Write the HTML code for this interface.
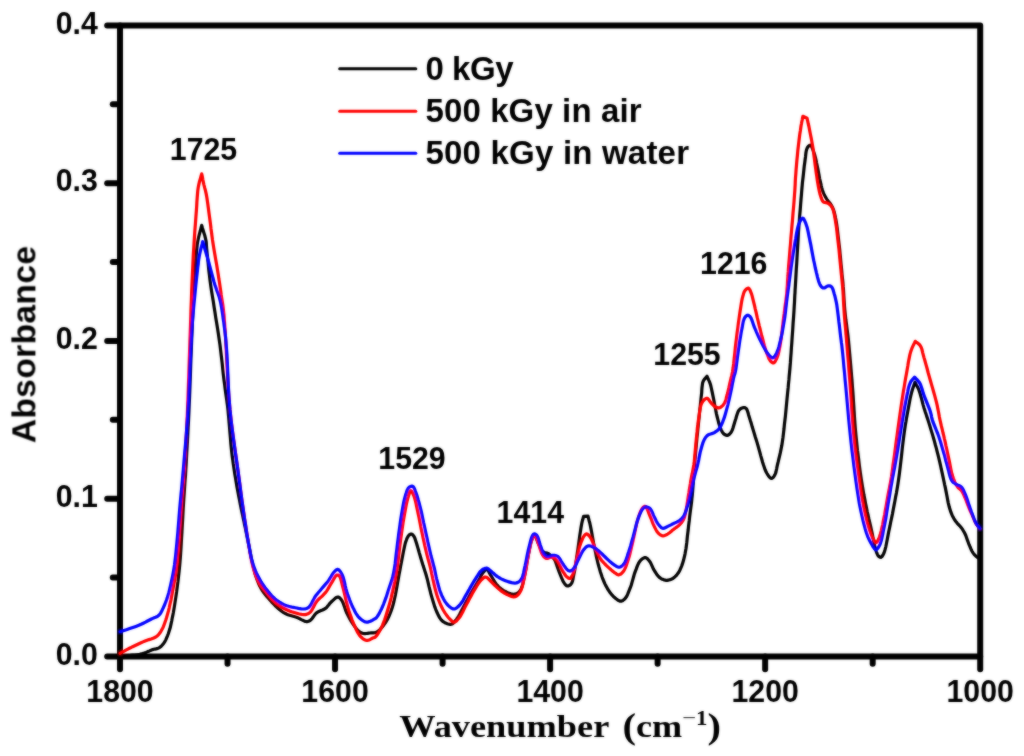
<!DOCTYPE html>
<html lang="en">
<head>
<meta charset="utf-8">
<title>FTIR absorbance spectra</title>
<style>
html,body{margin:0;padding:0;background:#fff;}
body{width:1024px;height:756px;overflow:hidden;}
svg{display:block;}
</style>
</head>
<body>
<svg width="1024" height="756" viewBox="0 0 1024 756">
<defs><filter id="soft" x="0" y="0" width="1024" height="756" filterUnits="userSpaceOnUse"><feGaussianBlur stdDeviation="0.9" result="b"/><feComposite in="SourceGraphic" in2="b" operator="arithmetic" k1="0" k2="0.5" k3="0.5" k4="0"/></filter></defs>
<rect width="1024" height="756" fill="#fff"/>
<g filter="url(#soft)">
<g stroke="#000" stroke-width="6.0" fill="none" stroke-linecap="round" stroke-linejoin="round">
<rect x="120.00" y="25.40" width="860.20" height="631.10"/>
<line x1="107.20" y1="656.50" x2="120.00" y2="656.50"/>
<line x1="112.80" y1="577.61" x2="120.00" y2="577.61"/>
<line x1="107.20" y1="498.73" x2="120.00" y2="498.73"/>
<line x1="112.80" y1="419.84" x2="120.00" y2="419.84"/>
<line x1="107.20" y1="340.95" x2="120.00" y2="340.95"/>
<line x1="112.80" y1="262.06" x2="120.00" y2="262.06"/>
<line x1="107.20" y1="183.17" x2="120.00" y2="183.17"/>
<line x1="112.80" y1="104.29" x2="120.00" y2="104.29"/>
<line x1="107.20" y1="25.40" x2="120.00" y2="25.40"/>
<line x1="120.00" y1="656.50" x2="120.00" y2="669.30"/>
<line x1="227.53" y1="656.50" x2="227.53" y2="663.70"/>
<line x1="335.05" y1="656.50" x2="335.05" y2="669.30"/>
<line x1="442.58" y1="656.50" x2="442.58" y2="663.70"/>
<line x1="550.10" y1="656.50" x2="550.10" y2="669.30"/>
<line x1="657.62" y1="656.50" x2="657.62" y2="663.70"/>
<line x1="765.15" y1="656.50" x2="765.15" y2="669.30"/>
<line x1="872.68" y1="656.50" x2="872.68" y2="663.70"/>
<line x1="980.20" y1="656.50" x2="980.20" y2="669.30"/>
</g>
<g fill="none" stroke-width="3.2" stroke-linejoin="round" stroke-linecap="round">
<path stroke="#000" d="M120.0,655.8 L122.6,655.7 L125.2,655.6 L127.8,655.5 L130.4,655.4 L132.8,655.2 L135.0,655.0 L136.4,654.8 L137.7,654.7 L138.9,654.5 L140.1,654.2 L141.3,653.9 L142.6,653.6 L144.2,653.1 L146.0,652.4 L147.7,651.6 L149.5,650.9 L151.1,650.2 L152.7,649.6 L153.8,649.3 L154.9,649.1 L156.0,648.9 L157.0,648.6 L158.0,648.3 L158.9,647.9 L159.8,647.3 L160.8,646.6 L161.6,645.8 L162.4,644.9 L163.2,644.0 L164.0,642.9 L165.0,641.4 L165.9,639.6 L166.7,637.7 L167.5,635.8 L168.3,633.7 L169.0,631.6 L169.8,629.1 L170.5,626.5 L171.1,623.7 L171.7,621.0 L172.2,618.1 L172.8,615.3 L173.4,612.3 L173.9,609.3 L174.4,606.2 L174.9,603.1 L175.4,599.8 L175.9,596.4 L176.6,591.8 L177.2,587.0 L177.9,581.9 L178.5,576.6 L179.1,571.0 L179.7,565.0 L180.5,555.1 L181.2,543.8 L181.9,531.8 L182.6,519.9 L183.2,508.7 L183.8,499.0 L184.2,493.6 L184.5,488.8 L184.8,484.4 L185.1,480.0 L185.5,475.3 L185.8,470.0 L186.3,461.4 L186.8,452.0 L187.4,442.1 L187.9,431.7 L188.5,421.0 L189.0,410.0 L189.6,395.9 L190.2,380.8 L190.7,365.2 L191.3,349.6 L191.9,334.4 L192.5,320.0 L193.1,308.0 L193.7,295.7 L194.4,283.8 L195.0,272.6 L195.7,262.9 L196.2,255.0 L196.5,252.2 L196.7,249.9 L196.9,247.8 L197.1,245.9 L197.3,243.9 L197.7,241.7 L198.2,239.1 L198.8,236.3 L199.5,233.6 L200.3,230.8 L201.0,228.1 L201.7,225.3 L202.4,227.9 L203.2,230.5 L204.0,233.1 L204.8,235.6 L205.4,238.1 L205.9,240.4 L206.2,242.1 L206.3,243.5 L206.4,245.0 L206.5,246.5 L206.6,248.1 L206.8,250.0 L207.2,254.0 L207.7,258.7 L208.2,263.9 L208.7,269.3 L209.4,274.7 L210.0,280.0 L210.7,285.3 L211.5,290.7 L212.4,296.2 L213.3,301.6 L214.1,307.1 L215.0,312.5 L215.8,317.9 L216.7,323.3 L217.6,328.7 L218.4,334.1 L219.2,339.5 L220.0,345.0 L220.7,350.8 L221.4,356.7 L222.1,362.6 L222.7,368.5 L223.3,374.3 L224.0,380.0 L224.7,385.1 L225.3,390.0 L226.0,394.9 L226.7,399.8 L227.4,404.8 L228.0,410.0 L228.6,416.5 L229.2,423.4 L229.8,430.5 L230.4,437.5 L230.9,444.1 L231.5,450.0 L231.9,453.7 L232.3,457.1 L232.8,460.3 L233.2,463.4 L233.7,466.6 L234.2,470.0 L234.8,474.0 L235.5,478.1 L236.2,482.3 L236.9,486.5 L237.7,490.8 L238.5,495.0 L239.4,499.5 L240.3,504.1 L241.2,508.7 L242.2,513.3 L243.1,517.8 L244.0,522.0 L244.7,525.3 L245.4,528.5 L246.0,531.6 L246.7,534.7 L247.3,537.8 L248.0,541.0 L248.7,544.7 L249.5,548.5 L250.2,552.4 L251.0,556.3 L251.7,560.0 L252.5,563.5 L253.1,566.1 L253.8,568.7 L254.4,571.1 L255.0,573.5 L255.7,575.8 L256.5,578.0 L257.2,579.9 L257.9,581.8 L258.6,583.6 L259.4,585.4 L260.3,587.1 L261.3,588.9 L262.5,590.8 L263.9,592.8 L265.4,594.7 L267.0,596.6 L268.6,598.4 L270.1,600.2 L271.5,601.8 L273.0,603.4 L274.5,604.9 L275.9,606.4 L277.4,607.7 L278.9,609.0 L280.1,610.0 L281.3,610.9 L282.5,611.8 L283.8,612.6 L285.0,613.3 L286.4,614.0 L288.0,614.7 L289.7,615.2 L291.5,615.7 L293.3,616.2 L294.9,616.7 L296.5,617.2 L297.7,617.7 L298.8,618.3 L299.9,618.8 L300.9,619.4 L301.9,619.9 L302.8,620.3 L303.5,620.6 L304.1,620.9 L304.7,621.2 L305.3,621.4 L305.9,621.5 L306.5,621.6 L307.1,621.6 L307.8,621.5 L308.4,621.3 L309.0,621.0 L309.7,620.7 L310.3,620.3 L311.3,619.4 L312.3,618.2 L313.3,616.8 L314.3,615.3 L315.4,613.9 L316.6,612.8 L318.0,611.9 L319.4,611.2 L321.0,610.6 L322.5,610.0 L324.0,609.3 L325.4,608.4 L326.6,607.4 L327.6,606.2 L328.7,605.0 L329.6,603.7 L330.6,602.6 L331.7,601.5 L332.7,600.6 L333.8,599.6 L334.9,598.6 L335.9,597.8 L337.0,597.3 L337.9,597.1 L338.6,597.2 L339.3,597.6 L339.9,598.1 L340.5,598.7 L341.1,599.4 L341.7,600.2 L342.6,601.8 L343.4,603.7 L344.2,606.0 L345.0,608.3 L345.8,610.7 L346.7,612.8 L347.7,614.8 L348.7,616.7 L349.7,618.7 L350.8,620.6 L351.9,622.4 L353.0,624.1 L354.0,625.5 L355.1,627.0 L356.1,628.3 L357.2,629.6 L358.3,630.7 L359.3,631.6 L359.9,632.1 L360.5,632.5 L361.1,632.8 L361.7,633.1 L362.4,633.3 L363.1,633.5 L364.1,633.6 L365.2,633.6 L366.4,633.5 L367.6,633.3 L368.8,633.1 L370.0,633.0 L371.1,632.9 L372.2,632.9 L373.2,632.9 L374.3,632.8 L375.3,632.6 L376.3,632.2 L377.4,631.6 L378.5,630.8 L379.6,629.9 L380.6,628.8 L381.6,627.7 L382.6,626.6 L383.7,625.2 L384.8,623.6 L385.9,622.0 L386.9,620.2 L387.9,618.4 L388.8,616.5 L389.8,614.2 L390.7,611.9 L391.6,609.4 L392.4,606.9 L393.2,604.2 L393.9,601.5 L394.7,598.0 L395.5,594.3 L396.2,590.5 L396.9,586.6 L397.6,582.7 L398.3,578.8 L399.0,574.8 L399.8,570.8 L400.5,566.7 L401.3,562.8 L402.0,558.9 L402.7,555.4 L403.2,552.8 L403.7,550.3 L404.2,547.9 L404.7,545.6 L405.2,543.5 L405.8,541.6 L406.3,540.3 L406.7,539.1 L407.2,537.9 L407.8,536.9 L408.3,536.0 L408.9,535.3 L409.3,534.9 L409.7,534.6 L410.2,534.3 L410.6,534.1 L411.1,534.0 L411.5,534.0 L411.9,534.2 L412.4,534.4 L412.8,534.9 L413.2,535.3 L413.6,535.9 L414.0,536.5 L414.6,537.6 L415.1,538.9 L415.6,540.4 L416.1,542.0 L416.6,543.6 L417.1,545.3 L417.8,547.6 L418.5,550.0 L419.2,552.6 L420.0,555.2 L420.7,557.8 L421.5,560.4 L422.3,563.0 L423.1,565.6 L424.0,568.2 L424.8,570.8 L425.7,573.5 L426.5,576.3 L427.4,579.5 L428.2,582.9 L429.0,586.4 L429.9,589.8 L430.7,593.2 L431.6,596.4 L432.4,599.1 L433.2,601.8 L434.0,604.4 L434.8,606.9 L435.7,609.3 L436.6,611.5 L437.4,613.2 L438.1,614.8 L438.9,616.4 L439.8,617.9 L440.7,619.2 L441.6,620.3 L442.4,621.0 L443.2,621.7 L444.0,622.2 L444.9,622.7 L445.7,623.1 L446.6,623.4 L447.4,623.7 L448.3,624.0 L449.2,624.2 L450.0,624.3 L450.9,624.3 L451.7,624.1 L452.6,623.7 L453.5,623.0 L454.3,622.1 L455.1,621.1 L455.9,620.1 L456.7,619.0 L457.8,617.4 L458.8,615.7 L459.9,613.7 L460.9,611.7 L461.9,609.7 L463.0,607.7 L464.2,605.5 L465.4,603.2 L466.7,600.8 L468.0,598.5 L469.2,596.2 L470.5,593.9 L471.8,591.7 L473.0,589.6 L474.3,587.5 L475.6,585.4 L476.8,583.4 L478.0,581.4 L478.9,579.8 L479.8,578.2 L480.6,576.6 L481.4,575.1 L482.2,573.8 L483.1,572.6 L483.7,571.8 L484.3,571.1 L485.0,570.4 L485.6,569.8 L486.2,569.5 L486.8,569.4 L487.5,569.7 L488.1,570.5 L488.7,571.5 L489.3,572.7 L489.9,573.9 L490.6,575.1 L491.6,576.7 L492.7,578.5 L493.8,580.3 L494.9,582.2 L496.2,583.9 L497.5,585.5 L498.8,586.8 L500.2,588.1 L501.7,589.2 L503.2,590.3 L504.8,591.2 L506.3,592.0 L507.7,592.7 L509.3,593.3 L510.8,593.8 L512.3,594.1 L513.7,594.3 L515.0,594.2 L516.0,593.9 L516.9,593.5 L517.8,592.9 L518.7,592.3 L519.5,591.4 L520.2,590.5 L521.2,588.7 L522.0,586.6 L522.7,584.1 L523.3,581.4 L523.9,578.7 L524.5,576.0 L525.2,572.7 L525.9,569.2 L526.5,565.6 L527.0,561.9 L527.7,558.4 L528.3,555.0 L528.9,552.1 L529.5,549.0 L530.1,546.1 L530.7,543.3 L531.4,540.9 L532.1,538.9 L532.5,538.0 L532.9,537.1 L533.3,536.2 L533.7,535.6 L534.2,535.1 L534.6,535.0 L535.2,535.5 L535.8,536.6 L536.4,538.2 L537.1,540.1 L537.7,541.9 L538.4,543.5 L539.1,544.9 L539.7,546.4 L540.4,547.9 L541.1,549.3 L541.9,550.5 L542.8,551.5 L543.7,552.1 L544.7,552.5 L545.8,552.9 L546.9,553.1 L548.0,553.5 L549.0,554.0 L549.9,554.7 L550.8,555.4 L551.7,556.1 L552.5,557.0 L553.3,557.9 L554.1,559.0 L555.1,560.7 L555.9,562.7 L556.7,564.9 L557.5,567.2 L558.3,569.5 L559.1,571.6 L559.9,573.6 L560.7,575.7 L561.6,577.8 L562.4,579.7 L563.2,581.5 L564.1,582.9 L564.6,583.6 L565.1,584.3 L565.7,584.9 L566.2,585.5 L566.7,585.8 L567.3,586.0 L567.9,586.0 L568.5,585.9 L569.2,585.6 L569.8,585.2 L570.5,584.7 L571.0,584.1 L571.8,582.9 L572.4,581.2 L572.9,579.4 L573.3,577.3 L573.7,575.1 L574.2,572.8 L574.9,569.4 L575.5,565.6 L576.1,561.5 L576.7,557.3 L577.3,553.1 L577.9,549.0 L578.5,544.7 L579.2,540.1 L579.8,535.5 L580.5,531.1 L581.1,527.1 L581.7,523.8 L582.0,522.3 L582.3,521.0 L582.7,519.8 L583.0,518.6 L583.3,517.5 L583.6,516.3 L588.0,516.1 L588.4,517.8 L588.8,519.4 L589.2,521.0 L589.7,522.7 L590.1,524.5 L590.5,526.4 L591.1,529.4 L591.7,532.6 L592.3,536.0 L593.0,539.6 L593.6,543.1 L594.3,546.5 L595.0,549.9 L595.7,553.3 L596.4,556.6 L597.2,560.0 L598.0,563.3 L598.8,566.4 L599.6,569.1 L600.3,571.7 L601.2,574.3 L602.0,576.8 L602.9,579.2 L603.9,581.5 L604.8,583.6 L605.8,585.6 L606.9,587.5 L607.9,589.4 L609.1,591.2 L610.2,592.8 L611.2,594.0 L612.2,595.2 L613.3,596.3 L614.3,597.3 L615.4,598.2 L616.4,599.0 L617.1,599.5 L617.9,600.1 L618.6,600.5 L619.4,600.9 L620.1,601.1 L620.8,601.2 L621.6,601.1 L622.3,600.8 L623.1,600.3 L623.8,599.8 L624.5,599.1 L625.2,598.4 L626.2,597.1 L627.1,595.5 L627.9,593.7 L628.7,591.7 L629.5,589.7 L630.3,587.7 L631.2,585.2 L632.0,582.4 L632.8,579.6 L633.6,576.7 L634.4,573.9 L635.3,571.4 L636.1,569.4 L636.8,567.4 L637.6,565.4 L638.4,563.6 L639.3,562.0 L640.3,560.7 L641.1,559.9 L641.9,559.1 L642.8,558.5 L643.6,558.0 L644.5,557.7 L645.3,557.6 L646.1,557.8 L646.8,558.3 L647.6,558.9 L648.3,559.7 L649.0,560.5 L649.7,561.4 L650.5,562.6 L651.2,564.1 L651.9,565.6 L652.6,567.2 L653.3,568.8 L654.1,570.2 L654.9,571.5 L655.7,572.7 L656.5,574.0 L657.3,575.1 L658.2,576.2 L659.1,577.1 L659.9,577.7 L660.8,578.3 L661.6,578.8 L662.5,579.3 L663.4,579.6 L664.2,579.9 L664.8,580.1 L665.4,580.2 L666.0,580.3 L666.6,580.3 L667.3,580.3 L667.9,580.2 L668.7,580.1 L669.6,579.8 L670.4,579.6 L671.3,579.2 L672.2,578.8 L673.0,578.3 L673.9,577.7 L674.8,576.9 L675.6,576.1 L676.5,575.3 L677.2,574.3 L678.0,573.3 L678.9,572.0 L679.7,570.5 L680.4,568.9 L681.1,567.3 L681.8,565.6 L682.4,563.9 L683.0,562.0 L683.6,560.0 L684.1,557.9 L684.6,555.8 L685.1,553.6 L685.5,551.3 L686.0,548.5 L686.4,545.5 L686.8,542.4 L687.1,539.3 L687.4,536.1 L687.8,533.0 L688.2,529.8 L688.5,526.6 L688.9,523.4 L689.3,520.2 L689.6,517.0 L690.0,513.8 L690.4,510.7 L690.8,507.7 L691.2,504.7 L691.6,501.6 L691.9,498.4 L692.3,495.0 L692.7,490.4 L693.1,485.4 L693.5,480.3 L693.8,475.1 L694.2,469.9 L694.6,465.0 L695.0,460.7 L695.3,456.4 L695.7,452.2 L696.1,448.0 L696.4,444.0 L696.8,440.0 L697.1,436.6 L697.5,433.3 L697.8,430.2 L698.1,427.0 L698.4,423.7 L698.8,420.3 L699.2,416.2 L699.6,411.8 L700.1,407.4 L700.5,403.1 L701.0,398.9 L701.4,395.1 L701.7,392.5 L701.8,389.9 L702.0,387.5 L702.3,385.2 L702.6,383.1 L703.2,381.3 L703.7,380.3 L704.3,379.4 L705.0,378.6 L705.7,377.8 L706.3,377.1 L707.0,376.3 L707.5,377.5 L708.1,378.7 L708.6,379.9 L709.2,381.1 L709.7,382.4 L710.2,383.8 L710.8,385.8 L711.3,388.0 L711.8,390.3 L712.3,392.7 L712.8,395.1 L713.3,397.6 L713.9,400.6 L714.5,403.8 L715.1,407.1 L715.8,410.4 L716.4,413.6 L717.1,416.5 L717.7,418.8 L718.3,421.1 L718.8,423.3 L719.5,425.4 L720.1,427.3 L720.8,429.0 L721.3,430.1 L721.8,431.1 L722.3,432.0 L722.8,432.8 L723.4,433.5 L724.0,434.1 L724.6,434.5 L725.2,434.8 L725.8,435.1 L726.5,435.3 L727.1,435.4 L727.7,435.3 L728.4,435.0 L729.0,434.6 L729.7,434.0 L730.3,433.3 L730.9,432.5 L731.5,431.6 L732.3,430.1 L732.9,428.3 L733.5,426.3 L734.1,424.3 L734.7,422.2 L735.3,420.3 L735.9,418.5 L736.4,416.6 L737.0,414.7 L737.6,413.0 L738.2,411.4 L739.0,410.2 L739.6,409.6 L740.2,409.0 L740.8,408.5 L741.5,408.2 L742.2,407.9 L742.8,407.7 L743.3,407.6 L743.9,407.6 L744.5,407.6 L745.0,407.8 L745.5,408.0 L746.0,408.3 L746.7,409.1 L747.2,410.3 L747.7,411.7 L748.2,413.3 L748.6,414.9 L749.1,416.5 L749.7,418.4 L750.3,420.4 L751.0,422.5 L751.6,424.6 L752.2,426.8 L752.9,429.0 L753.7,431.6 L754.5,434.2 L755.3,437.0 L756.2,439.7 L757.1,442.6 L757.9,445.4 L758.8,448.7 L759.8,452.1 L760.7,455.6 L761.7,459.0 L762.6,462.2 L763.5,465.0 L764.1,466.7 L764.6,468.2 L765.1,469.7 L765.7,471.0 L766.3,472.3 L767.0,473.5 L767.7,474.6 L768.4,475.7 L769.2,476.8 L770.0,477.7 L770.8,478.3 L771.5,478.5 L772.1,478.3 L772.8,477.8 L773.4,477.2 L774.0,476.3 L774.5,475.4 L775.0,474.5 L775.6,473.2 L776.0,471.8 L776.3,470.3 L776.7,468.6 L777.0,466.8 L777.4,465.0 L778.1,462.2 L778.8,459.1 L779.6,455.8 L780.4,452.4 L781.1,448.9 L781.8,445.4 L782.4,441.4 L783.0,437.3 L783.5,433.1 L784.0,428.8 L784.4,424.5 L784.9,420.3 L785.4,416.1 L785.8,411.9 L786.2,407.6 L786.6,403.4 L787.0,399.2 L787.4,395.1 L787.8,391.2 L788.2,387.4 L788.5,383.7 L788.9,379.9 L789.2,376.0 L789.6,372.0 L790.0,367.4 L790.4,362.7 L790.7,357.8 L791.1,352.9 L791.4,347.9 L791.8,342.8 L792.2,336.6 L792.7,330.0 L793.1,323.2 L793.6,316.6 L794.0,310.5 L794.3,305.1 L794.5,302.3 L794.6,299.8 L794.7,297.5 L794.8,295.2 L795.0,292.8 L795.1,290.0 L795.4,285.3 L795.7,280.1 L796.0,274.6 L796.3,268.9 L796.7,263.3 L797.0,257.8 L797.3,252.5 L797.6,247.3 L797.9,242.1 L798.2,236.9 L798.5,231.6 L798.9,226.4 L799.3,221.0 L799.7,215.5 L800.2,210.0 L800.6,204.6 L801.0,199.5 L801.4,195.0 L801.6,192.3 L801.8,189.8 L802.0,187.5 L802.2,185.3 L802.4,182.9 L802.7,180.4 L803.1,177.0 L803.5,173.3 L803.9,169.5 L804.3,165.7 L804.8,162.2 L805.2,159.0 L805.5,156.9 L805.7,154.9 L805.9,153.0 L806.2,151.2 L806.6,149.6 L807.1,148.3 L807.5,147.5 L808.0,146.8 L808.6,146.1 L809.1,145.6 L809.7,145.3 L810.2,145.2 L810.9,145.6 L811.6,146.6 L812.2,147.9 L812.8,149.5 L813.4,151.2 L814.0,152.7 L814.6,154.6 L815.2,156.6 L815.7,158.7 L816.2,160.8 L816.6,163.1 L817.1,165.3 L817.6,167.9 L818.2,170.7 L818.7,173.5 L819.2,176.3 L819.7,179.0 L820.3,181.6 L820.8,183.6 L821.2,185.6 L821.7,187.6 L822.2,189.4 L822.8,191.2 L823.4,192.9 L824.0,194.2 L824.6,195.4 L825.2,196.6 L825.9,197.7 L826.5,198.8 L827.2,199.8 L827.7,200.6 L828.3,201.3 L828.9,202.0 L829.5,202.6 L830.0,203.3 L830.5,204.0 L831.0,204.7 L831.4,205.4 L831.8,206.1 L832.2,206.8 L832.6,207.6 L833.0,208.5 L833.6,210.0 L834.1,211.8 L834.6,213.7 L835.1,215.7 L835.5,217.8 L836.0,220.1 L836.6,223.7 L837.2,227.8 L837.7,232.1 L838.2,236.5 L838.7,241.0 L839.2,245.3 L839.7,249.5 L840.1,253.8 L840.5,258.0 L840.9,262.3 L841.3,266.4 L841.7,270.4 L842.0,273.8 L842.3,277.1 L842.7,280.3 L843.0,283.5 L843.2,286.7 L843.5,290.0 L843.7,293.3 L843.9,296.5 L844.1,299.7 L844.3,303.0 L844.5,306.4 L844.8,310.0 L845.3,314.6 L845.8,319.3 L846.5,324.2 L847.1,329.3 L847.8,334.5 L848.4,340.0 L849.1,347.3 L849.8,355.1 L850.5,363.2 L851.2,371.4 L851.9,379.6 L852.5,387.7 L853.1,395.6 L853.6,403.5 L854.1,411.4 L854.6,419.3 L855.2,427.2 L855.9,435.0 L856.7,442.7 L857.5,450.5 L858.5,458.3 L859.4,465.9 L860.4,473.2 L861.4,480.0 L862.2,485.0 L863.0,489.8 L863.8,494.4 L864.7,498.9 L865.5,503.2 L866.4,507.6 L867.2,511.5 L868.1,515.4 L868.9,519.2 L869.8,522.9 L870.7,526.6 L871.5,530.3 L872.3,533.9 L873.0,537.6 L873.7,541.2 L874.4,544.7 L875.2,547.8 L875.9,550.4 L876.3,551.6 L876.7,552.7 L877.1,553.7 L877.5,554.6 L877.9,555.4 L878.4,556.0 L878.8,556.4 L879.2,556.7 L879.6,557.0 L880.1,557.2 L880.5,557.3 L880.9,557.3 L881.4,557.0 L882.0,556.5 L882.5,555.8 L883.0,554.9 L883.5,554.0 L884.0,552.9 L884.9,550.2 L885.8,546.8 L886.6,542.8 L887.4,538.6 L888.2,534.4 L889.0,530.3 L889.9,526.2 L890.7,522.0 L891.6,517.8 L892.5,513.6 L893.3,509.3 L894.1,505.1 L894.9,501.0 L895.6,497.0 L896.4,493.1 L897.1,489.0 L897.8,484.7 L898.5,480.0 L899.5,472.7 L900.5,464.4 L901.5,455.7 L902.4,447.1 L903.4,439.0 L904.3,432.0 L904.9,428.1 L905.4,424.6 L906.0,421.3 L906.5,418.1 L907.1,414.9 L907.7,411.7 L908.3,408.4 L908.9,405.1 L909.5,401.9 L910.1,398.7 L910.8,395.6 L911.5,392.8 L912.1,390.8 L912.6,389.0 L913.2,387.2 L913.8,385.5 L914.4,383.8 L915.0,382.1 L915.7,383.4 L916.3,384.7 L917.0,386.0 L917.7,387.3 L918.4,388.7 L919.0,390.3 L919.9,392.9 L920.7,395.8 L921.6,398.9 L922.4,402.0 L923.2,405.1 L924.0,407.9 L924.7,410.0 L925.3,412.0 L926.0,413.9 L926.6,415.9 L927.3,417.9 L928.0,420.0 L928.9,422.9 L929.9,426.0 L930.8,429.1 L931.8,432.4 L932.8,435.6 L933.7,438.8 L934.6,441.9 L935.4,445.0 L936.3,448.1 L937.1,451.3 L937.9,454.4 L938.7,457.7 L939.6,461.4 L940.5,465.3 L941.3,469.2 L942.2,473.1 L943.0,476.8 L943.7,480.2 L944.2,482.5 L944.6,484.6 L945.1,486.6 L945.5,488.6 L945.9,490.6 L946.3,492.6 L946.7,494.7 L947.1,496.8 L947.5,499.0 L947.9,501.1 L948.3,503.1 L948.8,505.1 L949.2,506.8 L949.7,508.5 L950.2,510.1 L950.7,511.7 L951.3,513.2 L951.9,514.7 L952.5,516.0 L953.2,517.3 L953.9,518.6 L954.7,519.8 L955.5,521.0 L956.3,522.1 L957.1,523.1 L957.9,524.0 L958.8,524.9 L959.7,525.8 L960.5,526.7 L961.3,527.7 L962.0,528.7 L962.7,529.7 L963.3,530.7 L963.9,531.7 L964.5,532.8 L965.1,534.0 L965.8,535.5 L966.4,537.2 L967.0,539.0 L967.6,540.7 L968.3,542.5 L968.9,544.1 L969.5,545.5 L970.1,547.0 L970.7,548.4 L971.3,549.8 L971.9,551.0 L972.6,552.2 L973.2,553.1 L973.8,553.9 L974.4,554.6 L975.1,555.3 L975.7,556.0 L976.4,556.6 L977.0,557.1 L977.6,557.5 L978.2,557.9 L978.8,558.2 L979.4,558.6 L980.0,559.0"/>
<path stroke="#f00" d="M120.0,653.3 L122.1,652.2 L124.2,651.1 L126.3,649.9 L128.4,648.8 L130.5,647.8 L132.6,646.7 L134.7,645.7 L136.8,644.7 L138.9,643.7 L141.0,642.8 L143.0,641.9 L145.1,641.0 L147.1,640.3 L149.1,639.6 L151.1,639.0 L153.1,638.3 L154.8,637.5 L156.4,636.6 L157.5,635.7 L158.4,634.8 L159.2,633.8 L160.0,632.7 L160.8,631.6 L161.5,630.3 L162.5,628.5 L163.4,626.6 L164.2,624.5 L165.0,622.3 L165.8,620.0 L166.5,617.8 L167.2,615.4 L167.9,612.9 L168.6,610.4 L169.2,607.8 L169.7,605.3 L170.3,602.7 L170.9,600.1 L171.4,597.4 L171.9,594.7 L172.4,592.0 L172.9,589.3 L173.4,586.4 L174.0,583.1 L174.6,579.9 L175.2,576.6 L175.8,573.1 L176.4,569.3 L177.0,565.0 L177.9,555.8 L178.9,544.7 L179.7,532.6 L180.5,520.4 L181.3,508.9 L182.0,499.0 L182.4,493.6 L182.8,488.8 L183.2,484.4 L183.6,480.0 L183.9,475.3 L184.3,470.0 L184.8,461.4 L185.4,452.2 L185.9,442.3 L186.5,431.9 L187.0,421.1 L187.5,410.0 L188.1,394.5 L188.7,377.5 L189.3,359.7 L189.9,342.1 L190.5,325.2 L191.0,310.0 L191.4,299.8 L191.7,290.2 L192.1,281.1 L192.5,272.3 L192.9,263.6 L193.3,255.0 L193.8,247.1 L194.3,239.2 L194.8,231.5 L195.4,224.0 L195.9,216.9 L196.4,210.3 L196.7,205.9 L196.9,201.7 L197.2,197.8 L197.5,194.0 L197.8,190.4 L198.3,187.0 L198.8,184.6 L199.3,182.3 L199.9,180.2 L200.5,178.1 L201.1,176.0 L201.7,173.8 L202.1,175.7 L202.5,177.6 L202.8,179.5 L203.2,181.4 L203.6,183.3 L204.0,185.1 L204.4,186.6 L204.7,187.9 L205.1,189.2 L205.5,190.6 L205.8,192.1 L206.2,193.9 L206.9,197.8 L207.6,202.6 L208.3,207.8 L209.0,213.1 L209.7,218.2 L210.3,222.8 L210.7,225.9 L211.0,228.7 L211.4,231.4 L211.7,234.1 L212.1,236.9 L212.5,240.0 L213.2,244.6 L214.0,249.5 L214.9,254.7 L215.8,259.9 L216.7,265.1 L217.5,270.0 L218.2,274.3 L218.8,278.6 L219.5,282.8 L220.1,287.0 L220.7,291.0 L221.2,295.0 L221.7,298.3 L222.2,301.3 L222.7,304.2 L223.1,307.3 L223.5,310.8 L224.0,315.0 L224.9,327.0 L225.8,342.2 L226.7,359.5 L227.7,377.3 L228.7,394.6 L230.0,410.0 L231.2,421.0 L232.5,431.5 L233.9,441.7 L235.3,451.5 L236.6,461.0 L237.9,470.0 L238.8,476.8 L239.7,483.3 L240.5,489.6 L241.3,495.7 L242.1,501.7 L243.0,507.7 L243.8,513.3 L244.6,519.0 L245.5,524.5 L246.3,529.9 L247.2,535.3 L248.0,540.4 L248.7,544.8 L249.4,549.0 L250.1,553.2 L250.8,557.3 L251.6,561.2 L252.5,565.0 L253.4,568.2 L254.3,571.3 L255.3,574.4 L256.4,577.3 L257.5,580.0 L258.8,582.6 L259.9,584.5 L261.1,586.3 L262.4,587.9 L263.6,589.5 L265.0,591.1 L266.3,592.7 L267.7,594.4 L269.1,596.2 L270.5,597.9 L272.0,599.6 L273.5,601.2 L275.1,602.7 L276.7,604.0 L278.3,605.1 L280.0,606.2 L281.7,607.2 L283.5,608.1 L285.2,609.0 L286.8,609.8 L288.5,610.5 L290.2,611.2 L291.8,611.8 L293.5,612.3 L295.2,612.8 L296.9,613.3 L298.7,613.8 L300.5,614.2 L302.2,614.5 L303.8,614.7 L305.3,614.6 L306.3,614.4 L307.1,614.1 L308.0,613.8 L308.8,613.3 L309.5,612.8 L310.3,612.1 L311.4,610.8 L312.4,609.1 L313.4,607.2 L314.4,605.2 L315.4,603.3 L316.6,601.5 L318.0,599.9 L319.4,598.5 L321.0,597.1 L322.6,595.7 L324.0,594.2 L325.4,592.7 L326.6,591.1 L327.7,589.4 L328.7,587.6 L329.7,585.9 L330.7,584.2 L331.7,582.6 L332.6,581.2 L333.4,579.6 L334.3,578.1 L335.1,576.7 L335.9,575.7 L336.7,575.1 L337.1,575.0 L337.6,575.0 L338.0,575.0 L338.4,575.2 L338.8,575.4 L339.2,575.7 L340.0,576.8 L340.6,578.5 L341.2,580.5 L341.8,582.9 L342.4,585.3 L343.0,587.6 L343.8,590.7 L344.6,594.0 L345.4,597.4 L346.2,600.9 L347.1,604.4 L348.0,607.7 L348.9,610.8 L349.9,613.8 L351.0,616.9 L352.0,619.8 L353.2,622.6 L354.3,625.3 L355.3,627.4 L356.2,629.6 L357.2,631.6 L358.3,633.5 L359.4,635.2 L360.6,636.6 L361.6,637.5 L362.6,638.4 L363.6,639.2 L364.7,639.8 L365.7,640.2 L366.8,640.4 L367.9,640.3 L369.0,639.9 L370.2,639.4 L371.3,638.8 L372.3,638.3 L373.1,637.9 L373.5,637.8 L373.8,637.7 L374.1,637.7 L374.4,637.6 L374.7,637.5 L375.0,637.3 L375.9,636.4 L377.0,635.1 L378.1,633.5 L379.2,631.7 L380.3,629.7 L381.3,627.8 L382.5,625.2 L383.6,622.4 L384.7,619.5 L385.7,616.4 L386.7,613.3 L387.6,610.3 L388.5,607.2 L389.4,604.1 L390.3,600.9 L391.1,597.8 L391.8,594.6 L392.6,591.4 L393.3,588.2 L394.0,585.1 L394.7,582.0 L395.3,578.8 L395.9,575.5 L396.5,572.0 L397.2,567.5 L397.8,562.6 L398.4,557.6 L399.0,552.6 L399.6,547.6 L400.2,542.8 L400.8,538.5 L401.4,534.2 L402.0,529.9 L402.6,525.7 L403.2,521.6 L403.9,517.7 L404.5,514.3 L405.1,510.9 L405.7,507.6 L406.3,504.4 L407.0,501.4 L407.7,498.8 L408.2,497.1 L408.7,495.2 L409.2,493.5 L409.7,492.1 L410.2,491.1 L410.8,490.7 L411.3,490.9 L411.9,491.6 L412.4,492.6 L413.0,493.8 L413.5,495.0 L414.0,496.3 L414.7,498.3 L415.4,500.7 L416.0,503.3 L416.5,505.9 L417.1,508.7 L417.7,511.4 L418.3,514.4 L419.0,517.5 L419.6,520.6 L420.2,523.8 L420.8,527.0 L421.5,530.3 L422.3,534.0 L423.1,537.9 L424.0,541.8 L424.8,545.6 L425.7,549.4 L426.5,552.9 L427.2,555.6 L427.9,558.3 L428.6,560.8 L429.3,563.3 L429.9,565.7 L430.5,568.0 L430.9,569.9 L431.3,571.6 L431.6,573.3 L432.0,575.0 L432.4,576.9 L432.8,578.8 L433.5,581.7 L434.2,584.8 L435.0,588.1 L435.9,591.5 L436.8,594.7 L437.8,597.7 L438.7,600.2 L439.7,602.7 L440.7,605.0 L441.8,607.3 L442.9,609.5 L444.1,611.5 L445.1,613.1 L446.2,614.6 L447.2,616.1 L448.3,617.5 L449.4,618.7 L450.4,619.7 L451.0,620.3 L451.7,620.9 L452.3,621.4 L452.9,621.9 L453.6,622.1 L454.2,622.2 L455.0,622.0 L455.8,621.5 L456.7,620.7 L457.5,619.8 L458.4,618.8 L459.2,617.8 L460.5,616.0 L461.7,613.8 L463.0,611.4 L464.2,608.9 L465.4,606.4 L466.7,604.0 L468.0,601.7 L469.2,599.3 L470.5,596.9 L471.8,594.6 L473.0,592.3 L474.3,590.2 L475.4,588.4 L476.4,586.7 L477.4,585.0 L478.5,583.4 L479.5,582.0 L480.6,580.7 L481.4,579.8 L482.3,579.0 L483.1,578.2 L484.0,577.6 L484.8,577.1 L485.6,577.0 L486.3,577.2 L487.1,577.6 L487.8,578.2 L488.5,579.0 L489.2,579.7 L490.0,580.5 L491.1,581.6 L492.3,582.8 L493.6,584.1 L494.8,585.4 L496.2,586.7 L497.5,587.9 L498.9,589.1 L500.3,590.2 L501.8,591.4 L503.3,592.4 L504.8,593.4 L506.3,594.2 L507.8,594.9 L509.3,595.6 L510.9,596.2 L512.4,596.6 L513.8,596.8 L515.1,596.7 L516.1,596.3 L517.1,595.7 L517.9,594.9 L518.7,593.9 L519.5,592.9 L520.2,591.7 L521.2,589.7 L522.0,587.5 L522.7,584.9 L523.3,582.2 L523.9,579.4 L524.5,576.6 L525.2,573.2 L525.8,569.7 L526.5,566.0 L527.0,562.3 L527.7,558.7 L528.3,555.3 L528.9,552.3 L529.5,549.2 L530.1,546.2 L530.7,543.4 L531.4,540.9 L532.1,538.9 L532.5,538.0 L532.9,537.1 L533.3,536.4 L533.7,535.7 L534.2,535.3 L534.6,535.2 L535.2,535.7 L535.9,536.8 L536.5,538.4 L537.1,540.3 L537.8,542.2 L538.4,543.9 L539.1,545.8 L539.8,547.9 L540.5,550.0 L541.2,552.0 L542.0,553.8 L542.8,555.3 L543.4,556.0 L543.9,556.7 L544.5,557.3 L545.2,557.8 L545.8,558.2 L546.5,558.4 L547.3,558.4 L548.1,558.2 L549.0,557.8 L549.9,557.4 L550.8,557.1 L551.6,557.1 L552.5,557.3 L553.3,557.7 L554.2,558.2 L555.0,558.8 L555.8,559.5 L556.6,560.3 L557.5,561.5 L558.4,562.9 L559.2,564.4 L560.0,566.0 L560.8,567.6 L561.6,569.1 L562.4,570.5 L563.2,571.9 L564.1,573.2 L564.9,574.5 L565.8,575.7 L566.6,576.6 L567.1,577.1 L567.7,577.6 L568.2,578.0 L568.8,578.3 L569.3,578.5 L569.8,578.5 L570.4,578.2 L570.9,577.7 L571.4,577.0 L571.9,576.1 L572.4,575.1 L572.9,574.1 L573.6,572.1 L574.3,569.8 L574.9,567.1 L575.5,564.4 L576.1,561.6 L576.7,559.0 L577.3,556.4 L577.9,553.8 L578.5,551.1 L579.1,548.6 L579.8,546.1 L580.5,543.9 L581.1,542.3 L581.7,540.8 L582.3,539.3 L582.9,537.9 L583.5,536.8 L584.2,535.8 L584.6,535.3 L585.0,534.9 L585.4,534.5 L585.8,534.1 L586.3,534.0 L586.7,533.9 L587.3,534.1 L587.9,534.5 L588.6,535.2 L589.2,536.0 L589.9,536.8 L590.5,537.7 L591.4,539.2 L592.2,541.0 L593.0,543.0 L593.8,545.0 L594.7,547.1 L595.5,549.0 L596.3,550.7 L597.1,552.4 L597.8,554.1 L598.7,555.8 L599.6,557.4 L600.6,559.0 L601.9,560.7 L603.4,562.4 L604.9,564.0 L606.5,565.6 L608.1,567.1 L609.5,568.4 L610.5,569.3 L611.4,570.1 L612.3,570.9 L613.3,571.6 L614.1,572.3 L615.0,572.9 L615.7,573.3 L616.3,573.8 L616.9,574.2 L617.5,574.5 L618.2,574.8 L618.8,574.8 L619.5,574.6 L620.3,574.3 L621.1,573.8 L621.8,573.1 L622.5,572.4 L623.2,571.6 L624.1,570.3 L624.8,568.9 L625.6,567.2 L626.3,565.4 L626.9,563.5 L627.6,561.6 L628.5,558.8 L629.4,555.8 L630.2,552.7 L631.0,549.4 L631.8,546.0 L632.6,542.7 L633.4,539.0 L634.3,535.0 L635.1,531.0 L635.9,527.1 L636.7,523.4 L637.6,520.1 L638.3,517.9 L639.0,515.7 L639.7,513.6 L640.4,511.8 L641.2,510.1 L642.0,508.8 L642.5,508.1 L643.0,507.5 L643.6,507.0 L644.1,506.6 L644.7,506.3 L645.2,506.3 L646.0,506.9 L646.7,508.1 L647.5,509.7 L648.2,511.5 L648.9,513.4 L649.6,515.1 L650.3,516.8 L651.1,518.7 L651.8,520.5 L652.5,522.4 L653.2,524.1 L654.0,525.8 L654.7,527.2 L655.4,528.6 L656.1,530.0 L656.8,531.2 L657.6,532.3 L658.4,533.3 L659.1,533.9 L659.8,534.5 L660.5,535.0 L661.3,535.4 L662.0,535.7 L662.8,535.8 L663.6,535.8 L664.4,535.6 L665.3,535.3 L666.1,534.9 L667.0,534.5 L667.8,534.0 L668.8,533.3 L669.9,532.5 L671.0,531.6 L672.0,530.6 L673.1,529.7 L674.1,528.9 L675.0,528.3 L675.8,527.7 L676.7,527.1 L677.5,526.5 L678.3,525.9 L679.1,525.2 L679.9,524.4 L680.7,523.5 L681.5,522.6 L682.2,521.6 L682.9,520.6 L683.5,519.5 L684.1,518.1 L684.6,516.7 L685.0,515.1 L685.3,513.5 L685.6,511.8 L686.0,510.1 L686.5,507.8 L686.9,505.4 L687.3,502.8 L687.7,500.2 L688.1,497.6 L688.5,495.0 L689.0,492.2 L689.4,489.3 L689.9,486.4 L690.4,483.5 L690.8,480.7 L691.3,478.0 L691.7,475.8 L692.2,473.7 L692.6,471.7 L693.0,469.6 L693.4,467.4 L693.8,465.0 L694.3,461.2 L694.7,456.9 L695.1,452.5 L695.5,447.9 L695.9,443.4 L696.3,439.1 L696.7,435.4 L697.1,431.7 L697.4,428.0 L697.9,424.5 L698.3,421.0 L698.8,417.7 L699.2,414.9 L699.6,412.1 L700.0,409.4 L700.5,406.9 L701.1,404.6 L702.0,402.7 L702.7,401.6 L703.5,400.6 L704.4,399.6 L705.3,398.9 L706.2,398.4 L707.0,398.3 L707.8,398.6 L708.5,399.3 L709.2,400.3 L709.9,401.4 L710.7,402.4 L711.4,403.3 L712.1,404.0 L712.8,404.8 L713.6,405.5 L714.3,406.1 L715.0,406.7 L715.8,407.1 L716.4,407.4 L717.1,407.6 L717.7,407.7 L718.3,407.8 L719.0,407.8 L719.6,407.7 L720.4,407.4 L721.2,406.9 L721.9,406.3 L722.7,405.6 L723.4,404.8 L724.0,403.9 L724.7,402.7 L725.3,401.4 L725.8,399.9 L726.2,398.4 L726.6,396.7 L727.1,395.1 L727.7,393.0 L728.2,390.6 L728.8,388.2 L729.3,385.8 L729.8,383.5 L730.3,381.3 L730.7,379.7 L731.1,378.3 L731.4,376.9 L731.8,375.4 L732.1,373.8 L732.5,372.0 L733.1,368.1 L733.7,363.5 L734.2,358.4 L734.8,353.1 L735.3,347.8 L735.9,342.8 L736.5,337.9 L737.1,332.9 L737.8,327.9 L738.4,323.0 L739.1,318.3 L739.7,313.9 L740.2,310.6 L740.7,307.4 L741.2,304.2 L741.7,301.3 L742.2,298.6 L742.8,296.3 L743.2,295.0 L743.5,293.8 L743.9,292.7 L744.3,291.7 L744.8,290.9 L745.3,290.1 L745.8,289.6 L746.3,289.1 L746.9,288.7 L747.5,288.4 L748.0,288.2 L748.5,288.2 L749.0,288.5 L749.4,289.1 L749.9,289.8 L750.2,290.7 L750.6,291.6 L751.0,292.6 L751.6,294.1 L752.1,295.9 L752.6,297.8 L753.1,299.8 L753.6,301.8 L754.1,303.9 L754.7,306.4 L755.3,309.1 L756.0,311.8 L756.6,314.6 L757.2,317.4 L757.9,320.2 L758.6,323.1 L759.3,326.1 L760.1,329.0 L760.8,332.0 L761.5,334.9 L762.3,337.8 L763.0,340.4 L763.7,343.1 L764.4,345.7 L765.2,348.3 L765.9,350.7 L766.7,352.9 L767.3,354.5 L767.9,356.0 L768.5,357.5 L769.1,358.9 L769.8,360.0 L770.5,361.0 L771.0,361.5 L771.5,362.0 L772.0,362.4 L772.6,362.7 L773.1,362.9 L773.6,362.9 L774.3,362.5 L775.0,361.7 L775.6,360.6 L776.3,359.3 L776.9,357.9 L777.4,356.6 L778.1,354.7 L778.6,352.6 L779.1,350.3 L779.6,347.9 L780.1,345.4 L780.5,342.8 L781.1,339.1 L781.6,335.0 L782.1,330.7 L782.6,326.3 L783.1,322.0 L783.6,317.7 L784.2,313.4 L784.7,309.1 L785.3,304.7 L785.9,300.5 L786.4,296.4 L786.8,292.6 L787.0,289.9 L787.2,287.4 L787.4,285.0 L787.5,282.7 L787.6,280.4 L787.8,278.0 L788.0,275.7 L788.1,273.5 L788.3,271.4 L788.4,269.1 L788.6,266.7 L788.8,264.1 L789.2,259.6 L789.6,254.7 L790.0,249.4 L790.5,243.8 L790.9,238.2 L791.4,232.7 L791.9,226.5 L792.5,220.0 L793.0,213.4 L793.6,206.9 L794.1,200.7 L794.5,195.0 L794.8,191.2 L795.0,187.7 L795.2,184.3 L795.3,181.1 L795.5,177.7 L795.8,174.1 L796.1,169.7 L796.5,165.0 L796.9,160.2 L797.4,155.5 L797.8,150.8 L798.3,146.5 L798.7,143.1 L799.1,139.8 L799.5,136.5 L799.9,133.4 L800.4,130.4 L800.8,127.6 L801.1,125.5 L801.5,123.6 L801.8,121.8 L802.2,120.0 L802.5,118.1 L802.9,116.3 L807.1,118.2 L807.5,120.2 L807.9,122.1 L808.3,124.0 L808.8,126.0 L809.2,128.0 L809.6,130.1 L810.1,132.7 L810.6,135.3 L811.2,138.1 L811.7,140.8 L812.2,143.7 L812.7,146.5 L813.2,149.5 L813.6,152.6 L814.0,155.7 L814.4,158.9 L814.8,162.1 L815.2,165.3 L815.7,168.9 L816.2,172.7 L816.8,176.5 L817.3,180.3 L817.9,183.7 L818.4,186.7 L818.7,188.3 L819.0,189.8 L819.3,191.2 L819.6,192.5 L819.9,193.7 L820.3,195.0 L820.7,196.3 L821.1,197.6 L821.6,198.9 L822.1,200.1 L822.7,201.1 L823.4,201.9 L824.0,202.3 L824.8,202.5 L825.5,202.6 L826.3,202.7 L827.1,202.9 L827.8,203.2 L828.6,203.7 L829.4,204.3 L830.2,205.0 L830.9,205.8 L831.6,206.6 L832.2,207.6 L832.9,209.2 L833.5,211.1 L834.0,213.1 L834.5,215.3 L834.9,217.7 L835.3,220.1 L835.9,223.8 L836.5,227.8 L837.0,232.1 L837.5,236.6 L838.0,241.0 L838.5,245.3 L839.0,249.5 L839.4,253.8 L839.8,258.0 L840.2,262.3 L840.6,266.4 L841.0,270.4 L841.3,273.8 L841.7,277.1 L842.0,280.3 L842.3,283.5 L842.6,286.7 L842.9,290.0 L843.1,293.3 L843.3,296.5 L843.4,299.7 L843.6,303.0 L843.8,306.4 L844.0,310.0 L844.3,314.6 L844.7,319.3 L845.1,324.2 L845.6,329.3 L846.0,334.5 L846.5,340.0 L847.1,347.3 L847.7,355.1 L848.4,363.2 L849.0,371.4 L849.7,379.6 L850.3,387.7 L850.9,395.6 L851.4,403.5 L851.9,411.4 L852.5,419.3 L853.1,427.2 L853.8,435.0 L854.6,442.7 L855.5,450.5 L856.5,458.3 L857.5,465.9 L858.5,473.2 L859.5,480.0 L860.2,485.0 L860.9,489.9 L861.6,494.5 L862.3,499.0 L863.1,503.3 L863.9,507.6 L864.7,511.2 L865.5,514.8 L866.3,518.2 L867.1,521.6 L868.0,524.7 L868.9,527.7 L869.6,529.9 L870.3,532.0 L871.0,534.0 L871.8,535.9 L872.5,537.5 L873.3,539.0 L873.8,539.8 L874.3,540.7 L874.7,541.4 L875.2,542.1 L875.7,542.5 L876.2,542.6 L876.8,542.3 L877.4,541.6 L877.9,540.5 L878.5,539.3 L879.1,537.9 L879.6,536.5 L880.4,534.0 L881.2,531.1 L881.9,527.9 L882.7,524.5 L883.3,521.0 L884.0,517.7 L884.7,514.2 L885.3,510.6 L886.0,506.9 L886.6,503.3 L887.2,499.7 L887.8,496.3 L888.3,493.5 L888.9,490.7 L889.4,488.1 L889.9,485.4 L890.4,482.7 L890.9,480.0 L891.4,477.1 L891.8,474.3 L892.2,471.4 L892.6,468.4 L893.0,465.3 L893.5,462.0 L894.2,457.2 L894.9,452.0 L895.6,446.5 L896.3,440.9 L897.1,435.4 L897.8,430.0 L898.5,425.0 L899.2,420.0 L899.9,415.0 L900.6,410.1 L901.3,405.2 L902.0,400.4 L902.7,395.9 L903.4,391.4 L904.2,387.0 L904.9,382.6 L905.6,378.3 L906.4,374.0 L907.1,370.0 L907.8,366.0 L908.4,362.0 L909.2,358.2 L909.9,354.6 L910.8,351.4 L911.5,349.5 L912.2,347.7 L912.9,346.1 L913.7,344.5 L914.5,342.9 L915.2,341.3 L916.1,342.0 L917.0,342.6 L917.9,343.3 L918.7,344.0 L919.6,344.8 L920.3,345.7 L921.1,347.2 L921.8,349.0 L922.3,351.0 L922.8,353.1 L923.4,355.3 L924.0,357.6 L925.0,361.0 L926.0,364.6 L927.1,368.5 L928.1,372.5 L929.2,376.4 L930.3,380.3 L931.4,384.1 L932.5,387.9 L933.6,391.8 L934.7,395.6 L935.7,399.3 L936.6,402.9 L937.3,405.9 L937.8,408.7 L938.4,411.5 L938.9,414.3 L939.4,417.1 L940.0,420.0 L940.7,423.1 L941.4,426.2 L942.2,429.3 L942.9,432.5 L943.7,435.6 L944.4,438.8 L945.2,442.1 L945.9,445.6 L946.7,449.0 L947.4,452.4 L948.1,455.7 L948.8,458.9 L949.4,461.6 L949.9,464.4 L950.4,467.1 L950.9,469.6 L951.4,471.9 L951.9,474.0 L952.2,475.1 L952.5,476.0 L952.8,476.9 L953.1,477.7 L953.4,478.6 L953.8,479.5 L954.3,480.7 L954.9,482.1 L955.5,483.4 L956.2,484.7 L956.9,485.9 L957.6,487.0 L958.2,487.7 L958.8,488.2 L959.5,488.7 L960.1,489.2 L960.7,489.7 L961.3,490.4 L962.0,491.4 L962.7,492.6 L963.3,493.9 L963.9,495.2 L964.5,496.5 L965.1,497.9 L965.8,499.5 L966.4,501.1 L967.0,502.8 L967.6,504.4 L968.3,506.1 L968.9,507.7 L969.5,509.1 L970.1,510.5 L970.7,511.9 L971.4,513.3 L972.0,514.6 L972.6,516.0 L973.2,517.4 L973.8,518.9 L974.4,520.3 L975.1,521.8 L975.7,523.1 L976.4,524.3 L977.0,525.1 L977.6,525.9 L978.2,526.6 L978.8,527.3 L979.4,528.0 L980.0,528.7"/>
<path stroke="#00f" d="M120.0,631.8 L123.2,630.7 L126.4,629.7 L129.7,628.6 L132.8,627.5 L135.9,626.4 L138.8,625.3 L141.1,624.3 L143.3,623.2 L145.5,622.1 L147.5,621.0 L149.5,620.0 L151.4,619.0 L152.8,618.4 L154.2,617.8 L155.5,617.3 L156.7,616.8 L157.9,616.1 L158.9,615.3 L159.8,614.3 L160.6,613.1 L161.3,611.9 L162.0,610.5 L162.6,609.1 L163.3,607.7 L164.1,606.0 L164.9,604.2 L165.6,602.3 L166.4,600.3 L167.1,598.4 L167.7,596.4 L168.3,594.4 L168.9,592.4 L169.4,590.3 L169.9,588.2 L170.4,586.1 L170.9,583.8 L171.5,581.0 L172.1,578.3 L172.7,575.4 L173.3,572.3 L173.9,568.9 L174.5,565.0 L175.6,556.0 L176.7,545.0 L177.8,532.8 L178.8,520.5 L179.7,508.9 L180.6,499.0 L181.1,493.6 L181.6,488.8 L182.0,484.4 L182.4,480.0 L182.8,475.3 L183.3,470.0 L184.0,461.4 L184.8,452.0 L185.7,442.0 L186.5,431.6 L187.3,420.9 L188.0,410.0 L188.8,396.5 L189.4,382.1 L190.0,367.3 L190.7,352.5 L191.4,338.3 L192.2,325.0 L193.0,314.7 L193.9,304.5 L194.9,294.6 L195.8,285.3 L196.7,277.0 L197.5,270.0 L197.8,266.9 L198.2,264.3 L198.4,261.8 L198.7,259.6 L199.1,257.3 L199.5,255.0 L200.0,252.7 L200.5,250.5 L201.0,248.3 L201.6,246.1 L202.2,243.9 L202.7,241.7 L203.2,243.2 L203.6,244.8 L204.1,246.3 L204.6,247.8 L205.0,249.4 L205.5,251.0 L206.0,252.8 L206.5,254.6 L207.1,256.4 L207.6,258.3 L208.1,260.3 L208.8,262.5 L209.7,265.9 L210.7,269.6 L211.8,273.6 L212.9,277.6 L213.9,281.4 L215.0,285.0 L215.9,287.6 L216.7,290.1 L217.6,292.5 L218.5,294.9 L219.3,297.3 L220.0,300.0 L220.8,303.5 L221.5,307.1 L222.1,310.9 L222.7,314.8 L223.2,318.7 L223.8,322.5 L224.2,326.1 L224.7,329.6 L225.1,333.0 L225.5,336.6 L225.9,340.6 L226.2,345.0 L226.9,353.9 L227.4,364.3 L227.9,375.6 L228.4,387.3 L229.1,398.9 L230.0,410.0 L231.1,420.3 L232.4,430.7 L233.8,441.0 L235.2,451.1 L236.6,460.8 L237.9,470.0 L238.8,476.8 L239.7,483.3 L240.5,489.6 L241.3,495.7 L242.1,501.7 L243.0,507.7 L243.8,513.4 L244.6,519.0 L245.5,524.6 L246.3,530.1 L247.1,535.4 L248.0,540.4 L248.7,544.4 L249.4,548.3 L250.1,552.1 L250.8,555.8 L251.6,559.2 L252.5,562.5 L253.2,564.8 L254.0,567.0 L254.8,569.1 L255.6,571.1 L256.5,573.1 L257.5,575.1 L258.6,577.2 L259.8,579.4 L261.0,581.5 L262.3,583.6 L263.7,585.6 L265.1,587.6 L266.6,589.6 L268.2,591.6 L269.9,593.6 L271.6,595.5 L273.3,597.3 L275.1,598.9 L276.7,600.2 L278.4,601.4 L280.0,602.5 L281.7,603.5 L283.5,604.4 L285.2,605.2 L286.8,605.8 L288.5,606.3 L290.2,606.7 L291.9,607.1 L293.6,607.4 L295.2,607.7 L296.7,608.0 L298.3,608.4 L299.8,608.7 L301.3,608.9 L302.7,609.0 L304.0,609.0 L304.9,608.9 L305.8,608.7 L306.6,608.5 L307.4,608.1 L308.2,607.7 L309.0,607.1 L310.1,605.8 L311.2,604.1 L312.2,602.1 L313.3,600.1 L314.3,598.1 L315.3,596.4 L316.1,595.3 L317.0,594.2 L317.8,593.2 L318.6,592.3 L319.5,591.3 L320.4,590.2 L321.6,588.8 L322.8,587.4 L324.1,585.9 L325.4,584.4 L326.7,582.9 L327.9,581.4 L329.0,579.8 L330.1,578.0 L331.2,576.3 L332.2,574.6 L333.2,573.1 L334.2,571.9 L334.8,571.3 L335.5,570.6 L336.1,570.1 L336.7,569.7 L337.3,569.4 L337.9,569.4 L338.7,569.7 L339.4,570.4 L340.2,571.4 L340.9,572.5 L341.6,573.8 L342.3,575.1 L343.2,577.3 L343.9,579.9 L344.6,582.7 L345.2,585.6 L345.9,588.6 L346.7,591.4 L347.6,594.2 L348.6,597.0 L349.6,599.8 L350.7,602.6 L351.8,605.2 L353.0,607.7 L354.0,609.6 L354.9,611.5 L355.9,613.3 L357.0,614.9 L358.1,616.5 L359.3,617.8 L360.4,618.8 L361.6,619.8 L362.9,620.7 L364.2,621.5 L365.5,622.0 L366.8,622.2 L368.1,622.1 L369.5,621.6 L370.9,621.0 L372.2,620.3 L373.4,619.6 L374.4,619.0 L374.8,618.8 L375.1,618.7 L375.4,618.5 L375.7,618.3 L376.0,618.1 L376.3,617.8 L377.2,616.6 L378.3,615.0 L379.4,613.1 L380.5,610.9 L381.6,608.7 L382.6,606.5 L383.7,603.8 L384.8,600.9 L385.9,597.9 L386.9,594.9 L387.9,591.8 L388.8,588.9 L389.7,586.3 L390.5,583.9 L391.3,581.5 L392.1,579.0 L392.8,576.4 L393.5,573.5 L394.3,569.0 L395.1,564.0 L395.7,558.7 L396.3,553.3 L397.0,547.9 L397.6,542.8 L398.2,538.1 L398.8,533.3 L399.5,528.6 L400.1,524.0 L400.7,519.5 L401.4,515.2 L402.0,511.7 L402.6,508.3 L403.2,505.1 L403.8,501.9 L404.5,499.0 L405.2,496.3 L405.7,494.5 L406.3,492.8 L406.8,491.1 L407.4,489.7 L408.1,488.4 L408.9,487.5 L409.5,487.0 L410.1,486.7 L410.8,486.4 L411.5,486.2 L412.1,486.2 L412.7,486.3 L413.4,486.8 L413.9,487.6 L414.4,488.7 L414.9,489.9 L415.4,491.3 L415.9,492.6 L416.7,494.7 L417.4,497.0 L418.1,499.5 L418.9,502.1 L419.6,504.8 L420.3,507.6 L421.2,511.1 L422.0,514.8 L422.8,518.7 L423.6,522.6 L424.5,526.5 L425.3,530.3 L426.1,534.1 L427.0,538.0 L427.8,541.9 L428.7,545.8 L429.5,549.4 L430.3,552.9 L430.9,555.5 L431.6,557.9 L432.2,560.2 L432.8,562.5 L433.4,564.8 L434.0,567.0 L434.5,569.0 L434.9,570.9 L435.3,572.8 L435.7,574.8 L436.1,576.7 L436.6,578.8 L437.3,581.4 L438.0,584.3 L438.8,587.1 L439.6,590.0 L440.6,592.7 L441.6,595.2 L442.5,597.1 L443.5,599.0 L444.5,600.8 L445.6,602.4 L446.7,603.9 L447.9,605.2 L448.9,606.1 L449.9,607.0 L451.0,607.8 L452.1,608.5 L453.2,608.9 L454.2,609.0 L455.3,608.7 L456.3,608.1 L457.4,607.3 L458.5,606.3 L459.5,605.2 L460.5,604.0 L461.8,602.3 L463.1,600.3 L464.3,598.1 L465.5,595.8 L466.8,593.6 L468.0,591.4 L469.3,589.3 L470.5,587.1 L471.8,584.9 L473.0,582.8 L474.3,580.7 L475.5,578.8 L476.5,577.2 L477.6,575.5 L478.6,573.9 L479.6,572.4 L480.7,571.1 L481.8,570.1 L482.6,569.5 L483.5,569.0 L484.4,568.6 L485.2,568.4 L486.0,568.2 L486.8,568.2 L487.4,568.3 L487.9,568.6 L488.4,568.9 L488.9,569.4 L489.4,569.8 L490.0,570.3 L491.1,571.2 L492.2,572.2 L493.5,573.3 L494.8,574.5 L496.1,575.6 L497.5,576.6 L498.9,577.5 L500.3,578.3 L501.8,579.1 L503.2,579.8 L504.8,580.4 L506.3,581.0 L508.0,581.6 L509.7,582.1 L511.5,582.6 L513.3,582.9 L514.9,583.1 L516.4,582.9 L517.4,582.6 L518.3,582.1 L519.2,581.6 L520.0,580.9 L520.7,580.0 L521.4,579.1 L522.3,577.4 L523.0,575.3 L523.6,572.9 L524.1,570.4 L524.6,567.8 L525.2,565.3 L525.8,562.5 L526.4,559.5 L527.0,556.4 L527.6,553.4 L528.2,550.5 L528.9,547.7 L529.5,545.3 L530.1,542.9 L530.7,540.5 L531.3,538.3 L532.0,536.5 L532.7,535.2 L533.0,534.8 L533.3,534.5 L533.6,534.2 L533.9,534.0 L534.3,533.9 L534.6,533.9 L535.0,534.0 L535.4,534.2 L535.9,534.5 L536.3,534.8 L536.7,535.3 L537.1,535.8 L537.7,536.9 L538.3,538.4 L538.8,540.0 L539.2,541.8 L539.8,543.6 L540.3,545.2 L540.9,546.8 L541.4,548.4 L542.0,550.0 L542.6,551.5 L543.3,552.9 L544.0,554.0 L544.6,554.6 L545.2,555.2 L545.8,555.7 L546.4,556.0 L547.1,556.3 L547.8,556.5 L548.6,556.5 L549.4,556.3 L550.2,556.0 L551.1,555.7 L552.0,555.4 L552.8,555.3 L553.6,555.3 L554.5,555.4 L555.4,555.5 L556.2,555.7 L557.0,556.1 L557.8,556.5 L558.7,557.4 L559.6,558.5 L560.4,559.9 L561.2,561.3 L562.1,562.7 L562.9,564.0 L563.7,565.2 L564.6,566.4 L565.4,567.6 L566.3,568.7 L567.1,569.6 L567.9,570.3 L568.3,570.6 L568.7,570.8 L569.2,570.9 L569.6,571.0 L570.0,571.1 L570.4,571.0 L571.0,570.8 L571.7,570.4 L572.3,569.9 L572.9,569.3 L573.6,568.5 L574.2,567.8 L575.1,566.5 L575.9,564.9 L576.7,563.1 L577.5,561.3 L578.4,559.5 L579.2,557.8 L580.0,556.2 L580.8,554.6 L581.6,553.0 L582.4,551.5 L583.3,550.2 L584.2,549.0 L584.9,548.3 L585.6,547.5 L586.3,546.9 L587.0,546.4 L587.8,546.0 L588.6,545.8 L589.5,545.8 L590.4,546.0 L591.4,546.3 L592.4,546.7 L593.4,547.2 L594.3,547.7 L595.4,548.3 L596.4,549.1 L597.4,549.9 L598.5,550.8 L599.5,551.7 L600.6,552.7 L602.0,554.0 L603.5,555.5 L605.1,557.0 L606.6,558.5 L608.1,559.9 L609.5,561.2 L610.5,562.0 L611.4,562.8 L612.3,563.6 L613.2,564.2 L614.1,564.8 L615.0,565.4 L615.7,565.8 L616.5,566.3 L617.2,566.7 L618.0,567.0 L618.7,567.2 L619.4,567.2 L620.2,567.0 L620.9,566.7 L621.7,566.2 L622.4,565.6 L623.1,564.9 L623.8,564.1 L624.8,562.6 L625.7,560.7 L626.5,558.5 L627.3,556.2 L628.0,553.8 L628.8,551.5 L629.7,548.7 L630.6,545.9 L631.4,542.9 L632.2,539.9 L633.1,536.9 L633.9,533.9 L634.7,530.9 L635.5,527.8 L636.3,524.7 L637.1,521.7 L638.0,518.9 L638.9,516.4 L639.6,514.7 L640.3,513.1 L641.0,511.6 L641.7,510.2 L642.5,509.1 L643.3,508.2 L643.8,507.8 L644.3,507.5 L644.8,507.2 L645.3,507.0 L645.9,506.9 L646.4,506.9 L647.0,507.0 L647.7,507.2 L648.3,507.4 L649.0,507.8 L649.6,508.3 L650.2,508.8 L650.9,509.7 L651.6,510.9 L652.2,512.2 L652.8,513.6 L653.4,515.1 L654.0,516.4 L654.7,517.8 L655.4,519.2 L656.1,520.7 L656.8,522.1 L657.6,523.4 L658.4,524.5 L659.1,525.3 L659.8,526.2 L660.5,526.9 L661.2,527.6 L662.0,528.0 L662.8,528.3 L663.6,528.3 L664.4,528.1 L665.2,527.7 L666.1,527.3 L666.9,526.8 L667.8,526.4 L668.8,525.9 L669.9,525.4 L671.0,524.9 L672.0,524.3 L673.1,523.8 L674.1,523.3 L675.0,522.9 L675.8,522.5 L676.7,522.1 L677.5,521.7 L678.3,521.3 L679.1,520.8 L679.9,520.2 L680.7,519.6 L681.4,518.9 L682.2,518.1 L682.9,517.3 L683.5,516.4 L684.3,515.0 L685.0,513.4 L685.6,511.7 L686.2,509.9 L686.7,508.1 L687.3,506.3 L687.9,504.5 L688.4,502.7 L688.9,500.8 L689.4,499.0 L689.9,497.0 L690.4,495.0 L691.0,492.3 L691.6,489.5 L692.2,486.6 L692.8,483.6 L693.4,480.7 L694.0,478.0 L694.6,475.7 L695.2,473.6 L695.8,471.4 L696.4,469.3 L697.0,467.2 L697.6,465.0 L698.1,462.6 L698.7,460.1 L699.1,457.6 L699.6,455.1 L700.1,452.7 L700.7,450.4 L701.2,448.6 L701.7,446.8 L702.2,445.0 L702.7,443.4 L703.3,441.8 L703.9,440.4 L704.4,439.4 L705.0,438.4 L705.5,437.5 L706.2,436.7 L706.8,436.0 L707.6,435.3 L708.5,434.7 L709.6,434.3 L710.7,434.0 L711.8,433.6 L712.9,433.3 L713.9,432.8 L714.8,432.3 L715.7,431.7 L716.5,431.2 L717.4,430.5 L718.2,429.8 L718.9,429.0 L719.8,427.8 L720.6,426.5 L721.3,425.0 L722.0,423.5 L722.7,421.9 L723.3,420.3 L724.0,418.4 L724.7,416.4 L725.3,414.3 L725.9,412.1 L726.5,409.9 L727.1,407.7 L727.8,405.1 L728.4,402.4 L729.1,399.7 L729.7,396.9 L730.3,394.1 L730.9,391.4 L731.5,388.7 L732.0,386.0 L732.5,383.2 L733.1,380.6 L733.5,378.3 L734.0,376.3 L734.2,375.5 L734.5,374.8 L734.7,374.2 L734.9,373.6 L735.1,372.9 L735.3,372.0 L735.8,369.4 L736.3,366.0 L736.8,362.2 L737.3,358.2 L737.9,354.1 L738.4,350.4 L738.9,347.0 L739.4,343.5 L739.9,340.0 L740.5,336.6 L741.0,333.4 L741.6,330.3 L742.1,327.9 L742.5,325.5 L742.9,323.2 L743.4,321.0 L744.0,319.2 L744.7,317.7 L745.2,317.0 L745.7,316.5 L746.2,315.9 L746.7,315.6 L747.3,315.3 L747.8,315.2 L748.2,315.3 L748.7,315.5 L749.1,315.8 L749.6,316.1 L750.0,316.6 L750.4,317.1 L751.1,318.2 L751.7,319.6 L752.3,321.3 L752.9,323.0 L753.5,324.8 L754.1,326.5 L754.9,328.3 L755.7,330.2 L756.5,332.1 L757.4,334.1 L758.2,336.0 L759.1,337.8 L759.9,339.5 L760.8,341.2 L761.6,342.9 L762.5,344.6 L763.3,346.2 L764.2,347.8 L765.0,349.2 L765.8,350.6 L766.6,352.0 L767.5,353.3 L768.3,354.4 L769.2,355.4 L769.8,356.0 L770.5,356.6 L771.1,357.2 L771.8,357.6 L772.4,357.9 L773.0,357.9 L773.7,357.6 L774.3,357.0 L775.0,356.1 L775.6,355.1 L776.1,354.0 L776.7,352.9 L777.4,351.2 L778.1,349.3 L778.8,347.2 L779.4,345.0 L779.9,342.7 L780.5,340.3 L781.2,337.2 L781.9,334.0 L782.5,330.7 L783.1,327.2 L783.7,323.7 L784.3,320.2 L784.9,316.4 L785.4,312.5 L785.8,308.5 L786.3,304.5 L786.7,300.7 L787.2,297.0 L787.6,294.0 L788.0,291.1 L788.4,288.3 L788.8,285.5 L789.1,282.7 L789.5,280.0 L789.8,277.5 L790.1,275.2 L790.4,272.9 L790.7,270.5 L791.0,268.0 L791.4,265.4 L791.9,261.7 L792.5,257.7 L793.1,253.6 L793.8,249.4 L794.4,245.3 L795.1,241.5 L795.7,238.3 L796.2,235.0 L796.8,231.9 L797.4,228.9 L798.1,226.2 L798.9,223.9 L799.5,222.6 L800.1,221.3 L800.8,220.1 L801.4,219.1 L802.1,218.4 L802.7,218.2 L803.4,218.5 L804.0,219.4 L804.6,220.7 L805.3,222.2 L805.9,223.7 L806.4,225.2 L807.1,227.2 L807.6,229.4 L808.1,231.7 L808.6,234.1 L809.1,236.6 L809.6,239.0 L810.1,241.6 L810.7,244.4 L811.2,247.1 L811.7,249.9 L812.2,252.6 L812.7,255.3 L813.2,257.9 L813.7,260.4 L814.3,263.0 L814.8,265.5 L815.3,268.0 L815.9,270.4 L816.4,272.6 L817.0,274.9 L817.5,277.1 L818.1,279.2 L818.6,281.2 L819.2,282.8 L819.5,283.6 L819.9,284.4 L820.2,285.1 L820.6,285.8 L821.0,286.3 L821.4,286.8 L821.8,287.1 L822.2,287.4 L822.6,287.7 L823.1,287.9 L823.5,288.0 L824.0,288.0 L824.6,287.9 L825.1,287.6 L825.7,287.2 L826.3,286.7 L826.9,286.4 L827.4,286.1 L827.8,286.0 L828.1,285.9 L828.5,285.8 L828.8,285.8 L829.2,285.8 L829.5,285.8 L829.9,285.9 L830.3,286.0 L830.7,286.2 L831.1,286.5 L831.5,286.8 L831.8,287.1 L832.2,287.8 L832.6,288.6 L833.0,289.5 L833.3,290.5 L833.6,291.6 L833.9,292.7 L834.3,294.2 L834.8,295.7 L835.2,297.4 L835.6,299.1 L836.0,300.9 L836.4,302.7 L836.8,304.9 L837.1,307.1 L837.4,309.4 L837.7,311.7 L838.0,314.1 L838.3,316.5 L838.6,319.2 L838.9,321.9 L839.3,324.7 L839.6,327.4 L839.9,330.2 L840.2,332.9 L840.5,335.4 L840.8,337.7 L841.1,340.0 L841.4,342.5 L841.8,345.1 L842.1,348.0 L842.7,353.5 L843.3,359.7 L843.9,366.5 L844.6,373.5 L845.2,380.7 L845.9,387.7 L846.6,395.4 L847.3,403.2 L848.0,411.2 L848.7,419.2 L849.5,427.1 L850.3,435.0 L851.1,442.7 L852.0,450.5 L853.0,458.3 L853.9,465.9 L854.9,473.2 L855.8,480.0 L856.5,485.0 L857.2,489.8 L857.9,494.3 L858.6,498.8 L859.3,503.2 L860.2,507.6 L861.1,512.0 L862.1,516.5 L863.1,520.9 L864.2,525.2 L865.3,529.2 L866.4,532.8 L867.2,535.0 L868.0,537.1 L868.9,539.0 L869.7,540.8 L870.6,542.4 L871.5,544.0 L872.2,545.2 L872.9,546.5 L873.7,547.7 L874.4,548.7 L875.2,549.4 L875.9,549.7 L876.5,549.5 L877.2,549.0 L877.8,548.3 L878.4,547.4 L879.0,546.4 L879.6,545.3 L880.5,543.1 L881.3,540.5 L882.0,537.6 L882.7,534.4 L883.3,531.0 L884.0,527.7 L884.9,523.2 L885.8,518.4 L886.6,513.3 L887.4,508.2 L888.2,503.3 L889.0,498.8 L889.6,495.4 L890.1,492.2 L890.6,489.1 L891.1,486.1 L891.7,483.0 L892.2,480.0 L892.7,477.1 L893.3,474.3 L893.8,471.5 L894.4,468.7 L894.9,465.7 L895.5,462.5 L896.3,457.7 L897.2,452.4 L898.1,446.9 L899.0,441.2 L899.9,435.5 L900.8,430.0 L901.7,424.5 L902.6,418.8 L903.6,413.1 L904.5,407.6 L905.5,402.5 L906.4,397.8 L907.0,394.9 L907.6,392.1 L908.1,389.4 L908.7,387.0 L909.4,384.8 L910.2,382.8 L910.8,381.6 L911.6,380.6 L912.3,379.7 L913.1,378.9 L913.8,378.0 L914.6,377.1 L915.4,378.0 L916.3,378.9 L917.2,379.7 L918.0,380.7 L918.8,381.7 L919.6,382.8 L920.5,384.5 L921.2,386.5 L921.9,388.6 L922.6,390.8 L923.2,393.1 L924.0,395.3 L925.0,397.9 L926.1,400.7 L927.3,403.6 L928.4,406.4 L929.5,409.1 L930.3,411.5 L930.7,413.0 L931.1,414.4 L931.4,415.7 L931.6,417.1 L932.0,418.5 L932.4,420.0 L933.2,422.4 L934.3,425.1 L935.4,427.8 L936.5,430.7 L937.7,433.5 L938.7,436.3 L939.6,439.0 L940.5,441.7 L941.3,444.5 L942.1,447.2 L942.9,450.0 L943.7,452.7 L944.5,455.4 L945.2,458.2 L945.9,461.0 L946.7,463.8 L947.4,466.4 L948.1,469.0 L948.7,471.2 L949.2,473.4 L949.8,475.5 L950.4,477.5 L951.1,479.3 L951.9,480.8 L952.5,481.6 L953.2,482.3 L954.0,482.8 L954.7,483.3 L955.5,483.8 L956.3,484.3 L957.1,484.8 L958.0,485.2 L958.9,485.5 L959.7,485.9 L960.6,486.4 L961.3,487.0 L962.1,487.9 L962.8,489.0 L963.4,490.1 L964.0,491.4 L964.5,492.7 L965.1,494.0 L965.8,495.6 L966.4,497.4 L967.1,499.2 L967.7,501.1 L968.3,502.9 L968.9,504.7 L969.5,506.4 L970.1,508.2 L970.7,509.9 L971.3,511.6 L972.0,513.3 L972.6,515.0 L973.2,516.6 L973.8,518.2 L974.4,519.8 L975.0,521.3 L975.7,522.7 L976.4,524.0 L977.0,524.9 L977.6,525.7 L978.2,526.4 L978.8,527.1 L979.4,527.8 L980.0,528.5"/>
</g>
<g font-family="'Liberation Sans', Arial, sans-serif" font-weight="bold" font-size="30.3" fill="#000">
<text transform="translate(97.80,664.70) scale(1,1.045)" text-anchor="end">0.0</text>
<text transform="translate(97.80,506.93) scale(1,1.045)" text-anchor="end">0.1</text>
<text transform="translate(97.80,349.15) scale(1,1.045)" text-anchor="end">0.2</text>
<text transform="translate(97.80,191.37) scale(1,1.045)" text-anchor="end">0.3</text>
<text transform="translate(97.80,33.60) scale(1,1.045)" text-anchor="end">0.4</text>
<text transform="translate(120.00,702.00) scale(1,1.045)" text-anchor="middle">1800</text>
<text transform="translate(335.05,702.00) scale(1,1.045)" text-anchor="middle">1600</text>
<text transform="translate(550.10,702.00) scale(1,1.045)" text-anchor="middle">1400</text>
<text transform="translate(765.15,702.00) scale(1,1.045)" text-anchor="middle">1200</text>
<text transform="translate(980.20,702.00) scale(1,1.045)" text-anchor="middle">1000</text>
<text transform="translate(203.50,160.00) scale(1,1.045)" text-anchor="middle">1725</text>
<text transform="translate(412.00,469.25) scale(1,1.045)" text-anchor="middle">1529</text>
<text transform="translate(530.30,522.80) scale(1,1.045)" text-anchor="middle">1414</text>
<text transform="translate(687.00,364.80) scale(1,1.045)" text-anchor="middle">1255</text>
<text transform="translate(733.75,273.75) scale(1,1.045)" text-anchor="middle">1216</text>
</g>
<g stroke-width="3" fill="none" stroke-linecap="round">
<line x1="339.7" y1="68.75" x2="415.8" y2="68.75" stroke="#000"/>
<line x1="339.7" y1="111.25" x2="415.8" y2="111.25" stroke="#f00"/>
<line x1="339.7" y1="153.25" x2="415.8" y2="153.25" stroke="#00f"/>
</g>
<g font-family="'Liberation Sans', Arial, sans-serif" font-weight="bold" font-size="33" fill="#000">
<text x="425.5" y="80.00" textLength="88.0" lengthAdjust="spacing">0 kGy</text>
<text x="425.5" y="122.20" textLength="216.0" lengthAdjust="spacing">500 kGy in air</text>
<text x="425.5" y="164.20" textLength="263.5" lengthAdjust="spacing">500 kGy in water</text>
</g>
<text transform="translate(35.4,344.6) rotate(-90)" x="-98.6" textLength="197.2" lengthAdjust="spacing" font-family="'Liberation Sans', Arial, sans-serif" font-weight="bold" font-size="33.5" fill="#000">Absorbance</text>
<g font-family="'Liberation Serif', 'Times New Roman', serif" font-weight="bold" font-size="32.5" fill="#000">
<text x="399.3" y="736.5" textLength="210" lengthAdjust="spacingAndGlyphs">Wavenumber</text>
<text x="622.5" y="736.5" textLength="98.5" lengthAdjust="spacingAndGlyphs"><tspan font-size="36.5" dy="1.5">(</tspan><tspan dy="-1.5">cm</tspan><tspan font-size="22" font-weight="normal" fill="#333" dy="-11.5">−</tspan><tspan font-size="20.5">1</tspan><tspan font-size="36.5" dy="13">)</tspan></text>
</g>
</g>
</svg>
</body>
</html>
